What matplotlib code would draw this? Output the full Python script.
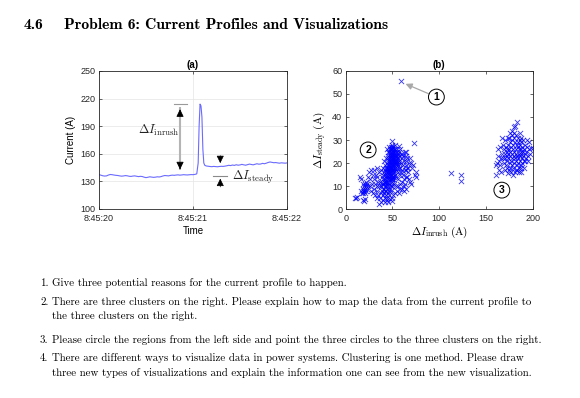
import numpy as np
import matplotlib.pyplot as plt

plt.rcParams['font.family'] = ['Liberation Sans', 'DejaVu Sans']
plt.rcParams['mathtext.fontset'] = 'cm'

# ---- data: current profile (seconds after 8:45:20) ----
t_sec = [0.00, 0.02, 0.04, 0.06, 0.08, 0.10, 0.12, 0.14, 0.16, 0.18,
         0.20, 0.22, 0.24, 0.26, 0.28, 0.30, 0.32, 0.34, 0.36, 0.38,
         0.40, 0.42, 0.44, 0.46, 0.48, 0.50, 0.52, 0.54, 0.56, 0.58,
         0.60, 0.62, 0.64, 0.66, 0.68, 0.70, 0.72, 0.74, 0.76, 0.78,
         0.80, 0.82, 0.84, 0.86, 0.88, 0.90, 0.92, 0.94, 0.96, 0.98,
         1.00, 1.02, 1.04,
         1.055, 1.065, 1.075, 1.085, 1.095, 1.105, 1.115, 1.125, 1.14,
         1.16, 1.18, 1.20, 1.22, 1.24, 1.26, 1.28, 1.30, 1.32, 1.34,
         1.36, 1.38, 1.40, 1.42, 1.44, 1.46, 1.48, 1.50, 1.52, 1.54,
         1.56, 1.58, 1.60, 1.62, 1.64, 1.66, 1.68, 1.70, 1.72, 1.74,
         1.76, 1.78, 1.80, 1.82, 1.84, 1.86, 1.88, 1.90, 1.92, 1.94,
         1.96, 1.98, 2.00]
current = [137.2, 136.8, 136.1, 135.8, 136.0, 136.9, 137.5, 137.3, 136.9, 136.6,
           136.4, 136.0, 135.7, 135.9, 136.3, 136.1, 135.6, 135.4, 135.8, 136.0,
           135.6, 135.2, 135.5, 135.3, 134.6, 134.1, 134.5, 135.0, 134.7, 134.4,
           134.6, 135.0, 134.8, 135.2, 135.9, 136.4, 136.2, 136.0, 136.5, 136.8,
           136.6, 136.9, 137.1, 136.8, 137.0, 137.3, 137.1, 137.0, 137.2, 137.4,
           137.3, 137.6, 138.2,
           150.0, 190.0, 214.0, 212.0, 200.0, 165.0, 150.0, 147.5, 146.8,
           146.5, 146.2, 146.0, 146.3, 146.1, 145.9, 146.2, 146.4, 146.3, 146.6,
           147.0, 147.5, 147.2, 147.8, 147.4, 148.1, 147.6, 147.9, 148.5, 148.0,
           147.6, 148.2, 148.8, 148.4, 148.0, 148.6, 149.2, 148.7, 148.9, 149.6,
           149.2, 149.8, 150.6, 151.1, 150.7, 150.3, 150.5, 150.1, 149.8, 150.2,
           150.0, 149.8, 150.1]
time_ticks = [0, 1, 2]
time_labels = ['8:45:20', '8:45:21', '8:45:22']

# ---- data: (inrush, steady) pairs ----
cluster1 = [(59, 55.7)]
cluster2 = [
    (45, 12), (46, 14), (47, 16), (48, 18), (49, 20), (50, 22), (51, 24), (52, 25), (50, 26), (49, 24),
    (48, 22), (47, 20), (46, 18), (45, 16), (44, 14), (43, 12), (42, 10), (44, 9), (46, 11), (48, 13),
    (50, 15), (52, 17), (54, 19), (55, 21), (53, 23), (51, 21), (49, 17), (47, 13), (45, 10), (43, 8),
    (41, 9), (40, 11), (42, 13), (44, 15), (46, 17), (48, 19), (50, 19), (52, 21), (54, 23), (56, 22),
    (57, 20), (55, 18), (53, 15), (51, 13), (49, 11), (47, 9), (45, 7), (43, 6), (41, 7), (39, 8),
    (38, 10), (40, 13), (42, 15), (44, 17), (46, 19), (48, 21), (50, 23), (52, 19), (54, 17), (56, 16),
    (58, 18), (59, 20), (57, 23), (55, 25), (53, 26), (51, 27), (49, 26), (47, 24), (45, 22), (44, 20),
    (43, 18), (41, 16), (39, 14), (37, 12), (36, 10), (38, 7), (40, 6), (42, 5), (44, 5), (46, 8),
    (48, 10), (50, 12), (52, 14), (54, 14), (56, 13), (58, 15), (60, 17), (61, 19), (62, 21), (60, 22),
    (59, 24), (57, 25), (55, 26), (53, 28), (50, 29.5), (48, 27), (46, 25), (45, 23), (47, 22), (49, 18),
    (51, 16), (53, 18), (55, 20), (57, 18), (59, 16), (61, 15), (63, 17), (64, 19), (65, 21), (66, 18),
    (67, 16), (68, 20), (69, 22), (66, 22), (64, 23), (63, 25), (62, 13), (64, 14), (60, 12), (58, 11),
    (56, 10), (54, 10), (52, 11), (50, 10), (48, 8), (46, 6), (44, 4), (42, 3), (40, 4), (38, 3),
    (36, 2.5), (37, 5), (35, 6), (34, 8), (33, 10), (35, 12), (34, 14), (32, 15), (30, 13), (31, 11),
    (30, 9), (29, 7), (31, 6), (33, 5), (27, 8), (26, 10), (28, 11), (29, 15), (27, 17), (25, 16),
    (24, 14), (26, 13), (30, 17), (33, 18), (36, 16), (38, 17), (40, 18), (42, 19), (41, 21), (43, 22),
    (45, 25), (46, 27), (44, 26), (47, 26), (49, 23), (51, 19), (53, 20), (55, 23), (57, 21), (56, 19),
    (44, 11), (45, 13), (46, 15), (47, 17), (48, 15), (49, 13), (50, 14), (51, 17), (52, 20), (53, 22),
    (50, 20), (49, 21), (48, 23), (47, 21), (46, 20), (45, 18), (44, 16), (43, 14), (42, 12), (41, 11),
    (50, 17), (51, 18), (52, 23), (50, 24), (49, 25), (48, 25), (47, 23), (46, 21), (45, 19), (44, 18),
    (53, 24), (54, 25), (52, 26), (51, 25), (50, 27), (49, 28), (48, 26), (51, 22), (53, 21), (54, 21),
    (55, 22), (56, 24), (54, 20), (52, 16), (51, 14), (50, 13), (49, 14), (48, 16), (47, 18), (46, 16),
    (45, 14), (44, 12), (43, 10), (42, 8), (41, 12), (40, 9), (39, 11), (43, 16), (42, 17), (40, 15),
    (20, 10), (21, 11), (22, 10), (23, 11), (21, 9), (22, 8), (23, 9), (20, 8), (19, 9), (24, 10),
    (22, 12), (21, 7), (18, 8), (17, 7), (16, 8), (19, 11),
    (11, 5), (12, 5.5), (10, 5), (20, 3.5), (21, 4.5), (19, 4), (16, 13), (15, 14), (18, 7),
    (73, 28.5), (74, 15), (75, 14), (75, 16), (70, 20), (71, 18), (72, 19), (68, 13), (70, 11), (69, 12),
    (65, 25), (57, 27.5), (60, 24), (62, 10), (58, 9), (57, 7), (60, 9), (50, 3.5), (65, 17), (67, 18),
    (66, 14), (63, 11), (62, 8), (64, 9), (55, 8), (53, 7), (51, 6), (49, 5), (47, 4.5), (45, 3),
    (58, 26), (61, 23)]
cluster3 = [
    (183, 38), (181, 36), (180, 35.5), (176, 33), (178, 32), (174, 31), (170, 30), (167, 31), (168, 28), (165, 27),
    (163, 26), (162, 20), (161, 19), (161, 15), (164, 17), (166, 16), (168, 22), (170, 24), (172, 26), (174, 28),
    (176, 29), (178, 30), (180, 31), (182, 32), (184, 31), (186, 30), (188, 29), (190, 30), (192, 28), (194, 27),
    (196, 26), (198, 26.5), (200, 26.5), (197, 24), (195, 23), (193, 22), (191, 21), (189, 20), (187, 19), (185, 18),
    (183, 17), (181, 16), (179, 15), (177, 16), (175, 17), (173, 18), (171, 19), (169, 20), (172, 21), (174, 22),
    (176, 23), (178, 24), (180, 25), (182, 26), (184, 27), (186, 28), (188, 26), (190, 25), (192, 24), (190, 23),
    (188, 24), (186, 23), (184, 22), (182, 21), (180, 20), (178, 19), (176, 20), (174, 24), (172, 23), (170, 22),
    (175, 26), (177, 27), (179, 28), (181, 29), (183, 28), (185, 26), (187, 25), (189, 27), (191, 26), (193, 25),
    (181, 22), (183, 23), (185, 24), (182, 24), (184, 20), (186, 21), (180, 23), (178, 22), (176, 25), (179, 26),
    (185, 16), (188, 18), (183, 19), (177, 21), (173, 25), (171, 27), (169, 26), (167, 24), (166, 22), (164, 21),
    (194, 30), (196, 29), (191, 18), (186, 33), (180, 33), (178, 34), (175, 31), (184, 29), (187, 31), (179, 18),
    (163, 23), (165, 19), (170, 17), (174, 15.5), (189, 22), (192, 21), (195, 21), (182, 17), (188, 16), (176, 18)]
outliers = [(113, 15.7), (123, 15), (123, 12.3)]

heading_num = '4.6'
heading = 'Problem 6: Current Profiles and Visualizations'
questions = [
    ('1.', ['Give three potential reasons for the current profile to happen.']),
    ('2.', ['There are three clusters on the right. Please explain how to map the data from the current profile to',
            'the three clusters on the right.']),
    ('3.', ['Please circle the regions from the left side and point the three circles to the three clusters on the right.']),
    ('4.', ['There are different ways to visualize data in power systems. Clustering is one method. Please draw',
            'three new types of visualizations and explain the information one can see from the new visualization.']),
]

W, H = 580, 398
fig = plt.figure(figsize=(W / 100, H / 100), dpi=100)


def px(x0, y0, x1, y1):
    return [x0 / W, 1 - y1 / H, (x1 - x0) / W, (y1 - y0) / H]


def style(ax):
    ax.tick_params(direction='in', length=2.5, width=0.5, labelsize=6.5, pad=2.5,
                   top=True, right=True, colors='#262626')
    ax.tick_params(axis='x', pad=3.5)
    for s in ax.spines.values():
        s.set_linewidth(0.6)
        s.set_color('#262626')


# ---- (a) current profile ----
ax1 = fig.add_axes(px(99, 71, 287, 209))
ax1.plot(t_sec, current, color='#6b6bff', lw=0.8)
ax1.set_xlim(0, 2)
ax1.set_ylim(100, 250)
ax1.set_yticks([100, 130, 160, 190, 220, 250])
ax1.set_xticks(time_ticks)
ax1.set_xticklabels(time_labels)
ax1.grid(True, color='#e4e4e4', lw=0.5)
ax1.set_axisbelow(True)
style(ax1)
ax1.set_title('(a)', fontsize=7, fontweight='bold', pad=2)
ax1.set_ylabel('Current (A)', fontsize=7, labelpad=3)
ax1.set_xlabel('Time', fontsize=7, labelpad=2)

# inrush arrow: grey shaft, black heads, grey cap at the peak
xa = 0.862
ax1.plot([0.80, 0.933], [213.8, 213.8], color='#9a9a9a', lw=0.8)
ax1.plot([xa, xa], [142, 211], color='#b4b4b4', lw=1.5, solid_capstyle='butt')
ax1.annotate('', xy=(xa, 211.5), xytext=(xa, 203),
             arrowprops=dict(arrowstyle='-|>,head_length=0.45,head_width=0.22', color='black', lw=0.6))
ax1.annotate('', xy=(xa, 140), xytext=(xa, 148),
             arrowprops=dict(arrowstyle='-|>,head_length=0.45,head_width=0.22', color='black', lw=0.6))
ax1.text(0.41, 185, r'$\Delta I_{\mathrm{inrush}}$', fontsize=9, ha='left', va='center', color='#222222')

# steady arrows
xs = 1.29
ax1.annotate('', xy=(xs, 146.8), xytext=(xs, 161),
             arrowprops=dict(arrowstyle='-|>,head_length=0.45,head_width=0.22', color='black', lw=0.5))
ax1.annotate('', xy=(xs, 136), xytext=(xs, 121),
             arrowprops=dict(arrowstyle='-|>,head_length=0.45,head_width=0.22', color='black', lw=0.5))
ax1.plot([1.21, 1.36], [136, 136], color='#8a8a8a', lw=0.8)
ax1.text(1.42, 134.5, r'$\Delta I_{\mathrm{steady}}$', fontsize=9, ha='left', va='center', color='#222222')

# ---- (b) scatter ----
ax2 = fig.add_axes(px(345.7, 70.7, 532.7, 209.3))
for pts in (cluster1, cluster2, cluster3, outliers):
    ax2.scatter([p[0] for p in pts], [p[1] for p in pts], marker='x', s=14,
                color='blue', linewidths=0.6, alpha=0.8)
ax2.set_xlim(0, 200)
ax2.set_ylim(0, 60)
ax2.set_xticks([0, 50, 100, 150, 200])
ax2.set_yticks(range(0, 70, 10))
style(ax2)
ax2.set_title('(b)', fontsize=7, fontweight='bold', pad=2)
ax2.set_xlabel(r'$\Delta I_{\mathrm{inrush}}\ \mathrm{(A)}$', fontsize=8, labelpad=1)
ax2.set_ylabel(r'$\Delta I_{\mathrm{steady}}\ \mathrm{(A)}$', fontsize=8, labelpad=3)

circ = dict(boxstyle='circle,pad=0.28', fc='white', ec='black', lw=0.7)
ax2.annotate('1', xy=(64, 54.3), xytext=(97, 48.6), fontsize=7.5, fontweight='bold',
             ha='center', va='center', bbox=circ,
             arrowprops=dict(arrowstyle='-|>,head_length=0.5,head_width=0.25',
                             color='#a8a8a8', lw=0.9, shrinkA=0, shrinkB=0))
ax2.text(24, 25.7, '2', fontsize=7.5, fontweight='bold', ha='center', va='center', bbox=circ)
ax2.text(167, 8.3, '3', fontsize=7.5, fontweight='bold', ha='center', va='center', bbox=circ)

# ---- page text ----
fig.text(24 / W, 1 - 25 / H, heading_num, family='cmb10', fontsize=11.3, ha='left', va='center')
fig.text(64 / W, 1 - 25 / H, heading, family='cmb10', fontsize=11.3, ha='left', va='center')

line_y = [[283], [302, 316], [340], [358, 373]]
for (num, lines), ys in zip(questions, line_y):
    fig.text(40 / W, 1 - ys[0] / H, num, family='cmr10', fontsize=7.85, ha='left', va='center')
    for txt, y in zip(lines, ys):
        fig.text(52.5 / W, 1 - y / H, txt, family='cmr10', fontsize=7.85, ha='left', va='center')

fig.savefig('out.png', dpi=100)
